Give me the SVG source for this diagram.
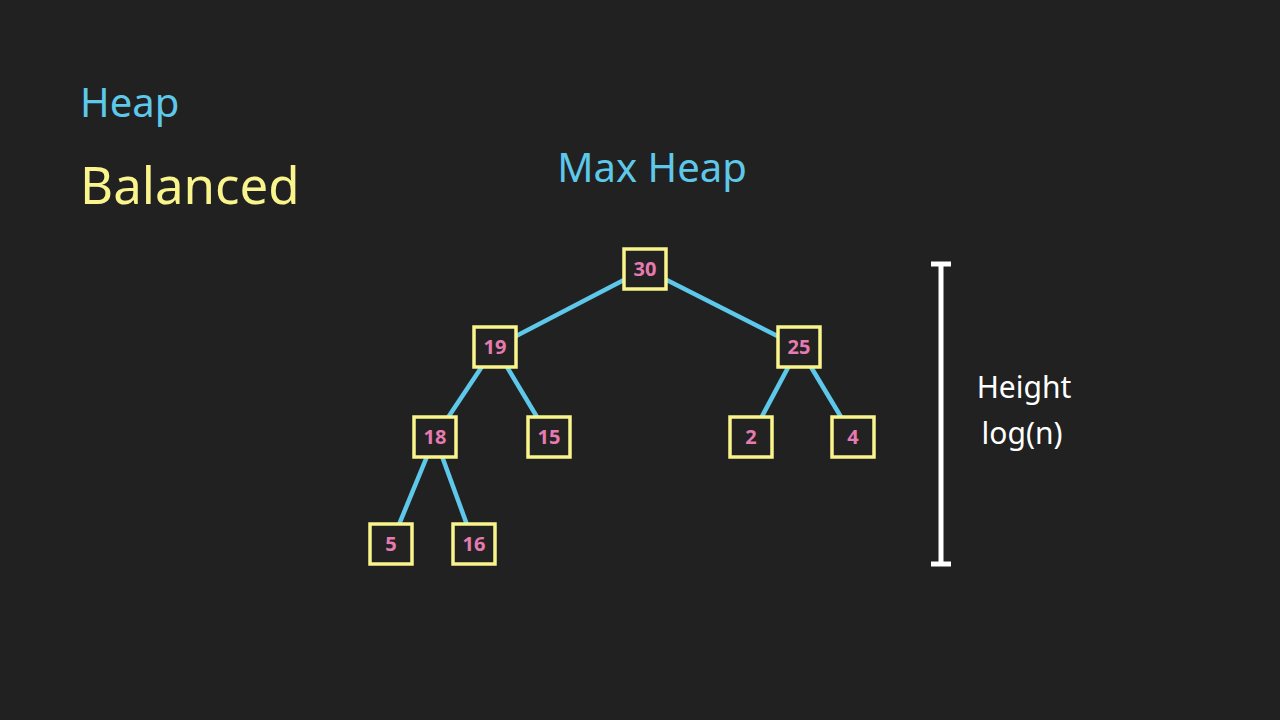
<svg xmlns="http://www.w3.org/2000/svg" width="1280" height="720" viewBox="0 0 1280 720">
<style>
.n rect{fill:#222;stroke:#f9f48c;stroke-width:3.5}
.n text{fill:#e57bb0;font-family:"Noto Sans","Liberation Sans",sans-serif;font-weight:bold;font-size:20px;text-anchor:middle}
.e line{stroke:#5ec8ea;stroke-width:4.5}
.t{font-family:"Noto Sans","Open Sans","Liberation Sans",sans-serif}
</style>
<rect width="1280" height="720" fill="#212121"/>
<text class="t" x="80" y="117" font-size="40" fill="#5ec8ea">Heap</text>
<text class="t" x="80" y="204" font-size="51" fill="#f9f48c">Balanced</text>
<text class="t" x="652" y="182" font-size="40" fill="#5ec8ea" text-anchor="middle">Max Heap</text>
<g id="connectors" class="e">
<line x1="645" y1="269" x2="495" y2="347"/>
<line x1="645" y1="269" x2="799" y2="347"/>
<line x1="495" y1="347" x2="435" y2="437"/>
<line x1="495" y1="347" x2="549" y2="437"/>
<line x1="799" y1="347" x2="751" y2="437"/>
<line x1="799" y1="347" x2="853" y2="437"/>
<line x1="435" y1="437" x2="391" y2="544"/>
<line x1="435" y1="437" x2="474" y2="544"/>
</g>
<g id="n30" class="n"><rect x="624" y="249" width="42" height="40"/><text x="645" y="276">30</text></g>
<g id="n19" class="n"><rect x="474" y="327" width="42" height="40"/><text x="495" y="354">19</text></g>
<g id="n25" class="n"><rect x="778" y="327" width="42" height="40"/><text x="799" y="354">25</text></g>
<g id="n18" class="n"><rect x="414" y="417" width="42" height="40"/><text x="435" y="444">18</text></g>
<g id="n15" class="n"><rect x="528" y="417" width="42" height="40"/><text x="549" y="444">15</text></g>
<g id="n2" class="n"><rect x="730" y="417" width="42" height="40"/><text x="751" y="444">2</text></g>
<g id="n4" class="n"><rect x="832" y="417" width="42" height="40"/><text x="853" y="444">4</text></g>
<g id="n5" class="n"><rect x="370" y="524" width="42" height="40"/><text x="391" y="551">5</text></g>
<g id="n16" class="n"><rect x="453" y="524" width="42" height="40"/><text x="474" y="551">16</text></g>
<g id="bar" stroke="#fff" stroke-width="5">
<line x1="941" y1="264" x2="941" y2="564"/>
<line x1="931" y1="264" x2="951" y2="264"/>
<line x1="931" y1="564" x2="951" y2="564"/>
</g>
<text class="t" x="1024" y="398" font-size="30" fill="#fff" text-anchor="middle">Height</text>
<text class="t" x="1022" y="444" font-size="30" fill="#fff" text-anchor="middle">log(n)</text>
</svg>
